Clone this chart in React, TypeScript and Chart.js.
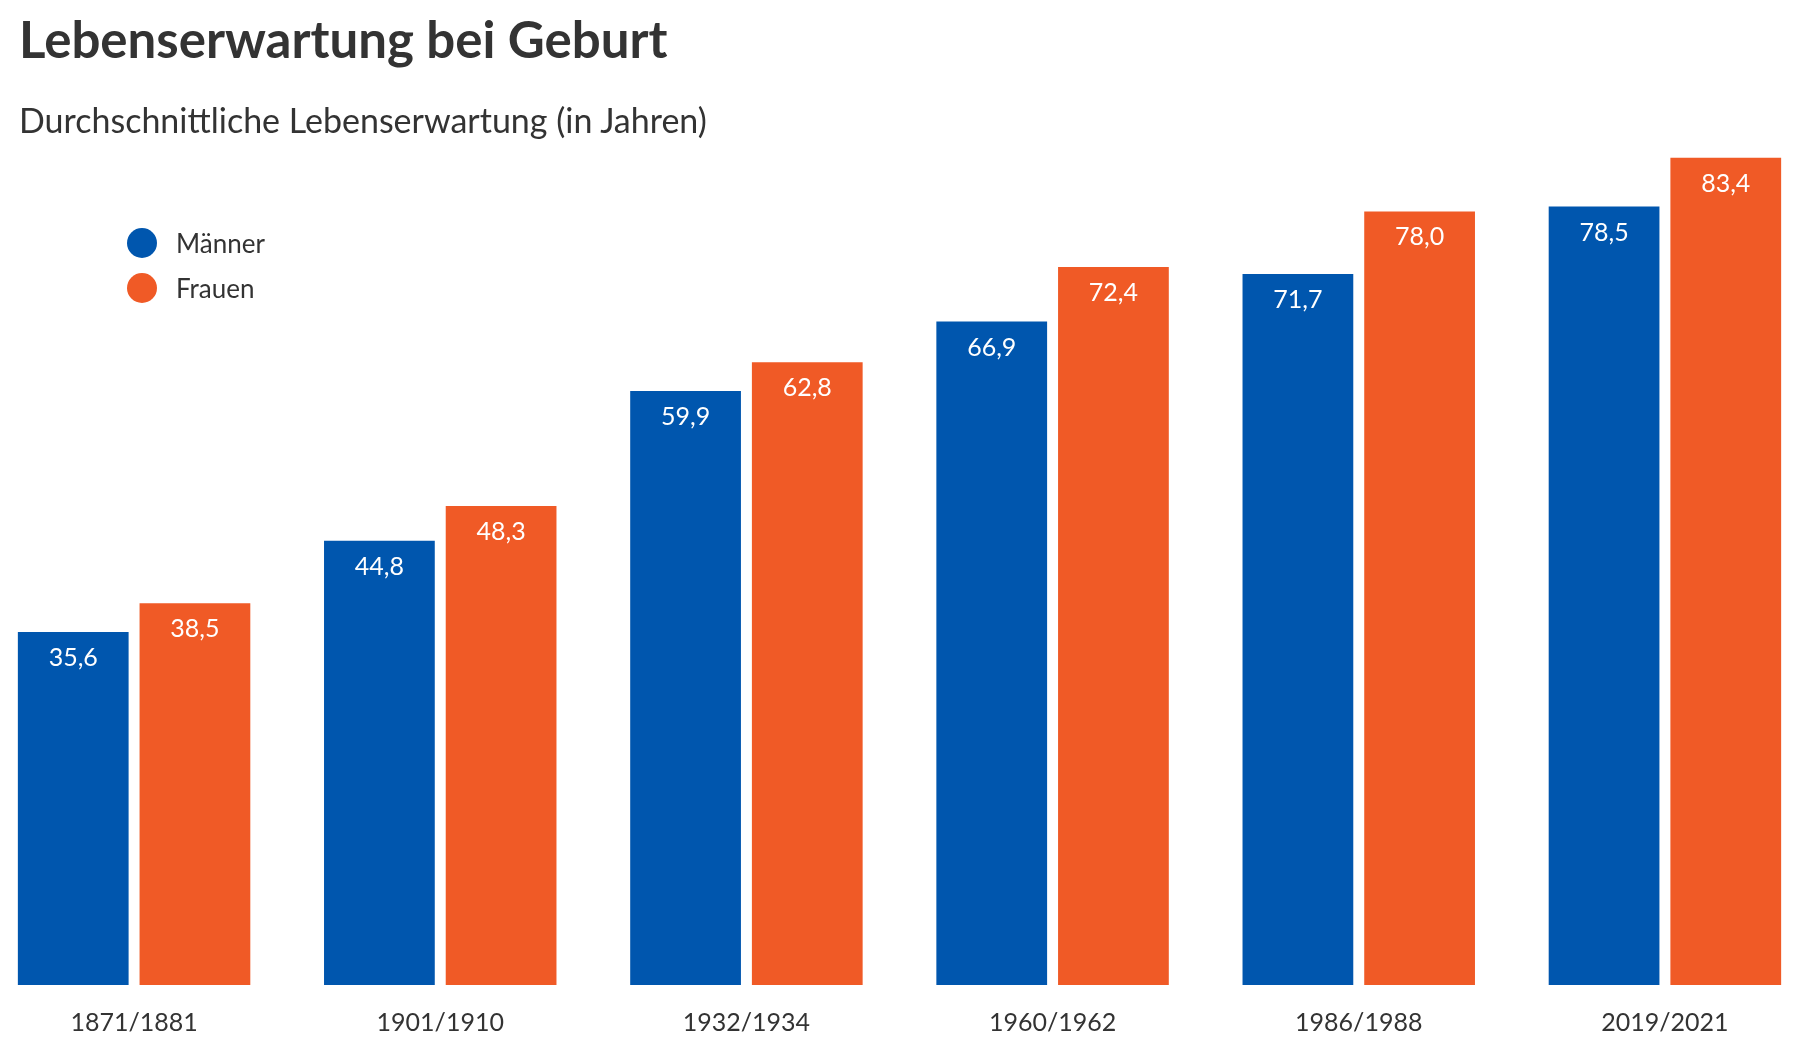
import React, { useEffect, useRef } from 'react';
import { Chart, registerables } from 'chart.js';

Chart.register(...registerables);

const categories = ['1871/1881', '1901/1910', '1932/1934', '1960/1962', '1986/1988', '2019/2021'];
const maenner = [35.6, 44.8, 59.9, 66.9, 71.7, 78.5];
const frauen = [38.5, 48.3, 62.8, 72.4, 78.0, 83.4];
const seriesNames = ['Männer', 'Frauen'];

const BLUE = '#0056ae';
const ORANGE = '#f05a26';
const TEXT = '#333333';
const FONT = 'Lato, "Noto Sans", sans-serif';

// white values written inside the top of each bar
const valueLabels = {
  id: 'valueLabels',
  afterDatasetsDraw(chart: Chart) {
    const ctx = chart.ctx;
    ctx.save();
    ctx.fillStyle = '#ffffff';
    ctx.font = `25px ${FONT}`;
    ctx.textAlign = 'center';
    ctx.textBaseline = 'middle';
    chart.data.datasets.forEach((ds, i) => {
      const meta = chart.getDatasetMeta(i);
      meta.data.forEach((bar: any, j: number) => {
        const v = ds.data[j] as number;
        ctx.fillText(v.toFixed(1).replace('.', ','), bar.x, bar.y + 26);
      });
    });
    ctx.restore();
  },
};

const LifeChart: React.FC = () => {
  const chartRef = useRef<HTMLCanvasElement>(null);
  const chartInstance = useRef<Chart | null>(null);

  useEffect(() => {
    if (!chartRef.current) return;
    if (chartInstance.current) chartInstance.current.destroy();

    chartInstance.current = new Chart(chartRef.current, {
      type: 'bar',
      data: {
        labels: categories,
        datasets: [
          { label: seriesNames[0], data: maenner, backgroundColor: BLUE },
          { label: seriesNames[1], data: frauen, backgroundColor: ORANGE },
        ],
      },
      options: {
        responsive: false,
        animation: false,
        datasets: {
          bar: { barPercentage: 0.91, categoryPercentage: 0.795 },
        },
        layout: { padding: { top: 142, bottom: 0, left: 0, right: 0 } },
        plugins: {
          legend: { display: false },
          tooltip: { enabled: false },
        },
        scales: {
          x: {
            grid: { display: false, drawTicks: false },
            border: { display: false },
            ticks: {
              color: TEXT,
              padding: 23,
              font: { family: FONT, size: 25 },
            },
          },
          y: {
            display: false,
            min: 0,
            max: 85,
          },
        },
      },
      plugins: [valueLabels],
    });

    return () => {
      if (chartInstance.current) {
        chartInstance.current.destroy();
        chartInstance.current = null;
      }
    };
  }, []);

  return (
    <canvas
      ref={chartRef}
      width={1837}
      height={1061}
      style={{ position: 'absolute', left: -19, top: 0 }}
    />
  );
};

const legendItems = [
  { name: seriesNames[0], color: BLUE, top: 228 },
  { name: seriesNames[1], color: ORANGE, top: 273 },
];

export default function App() {
  return (
    <div
      style={{
        position: 'absolute',
        left: 0,
        top: 0,
        width: 1800,
        height: 1057,
        overflow: 'hidden',
        background: '#ffffff',
        fontFamily: FONT,
        color: TEXT,
      }}
    >
      <LifeChart />
      <div
        style={{
          position: 'absolute',
          left: 19,
          top: 13,
          fontSize: 51,
          fontWeight: 700,
          lineHeight: 1,
          whiteSpace: 'nowrap',
        }}
      >
        Lebenserwartung bei Geburt
      </div>
      <div
        style={{
          position: 'absolute',
          left: 19,
          top: 103,
          fontSize: 34,
          lineHeight: 1,
          whiteSpace: 'nowrap',
        }}
      >
        Durchschnittliche Lebenserwartung (in Jahren)
      </div>
      {legendItems.map((it) => (
        <div
          key={it.name}
          style={{
            position: 'absolute',
            left: 127,
            top: it.top,
            height: 30,
            display: 'flex',
            alignItems: 'center',
            fontSize: 26,
            whiteSpace: 'nowrap',
          }}
        >
          <span
            style={{
              display: 'inline-block',
              width: 30,
              height: 30,
              borderRadius: '50%',
              background: it.color,
              marginRight: 19,
            }}
          />
          {it.name}
        </div>
      ))}
    </div>
  );
}
